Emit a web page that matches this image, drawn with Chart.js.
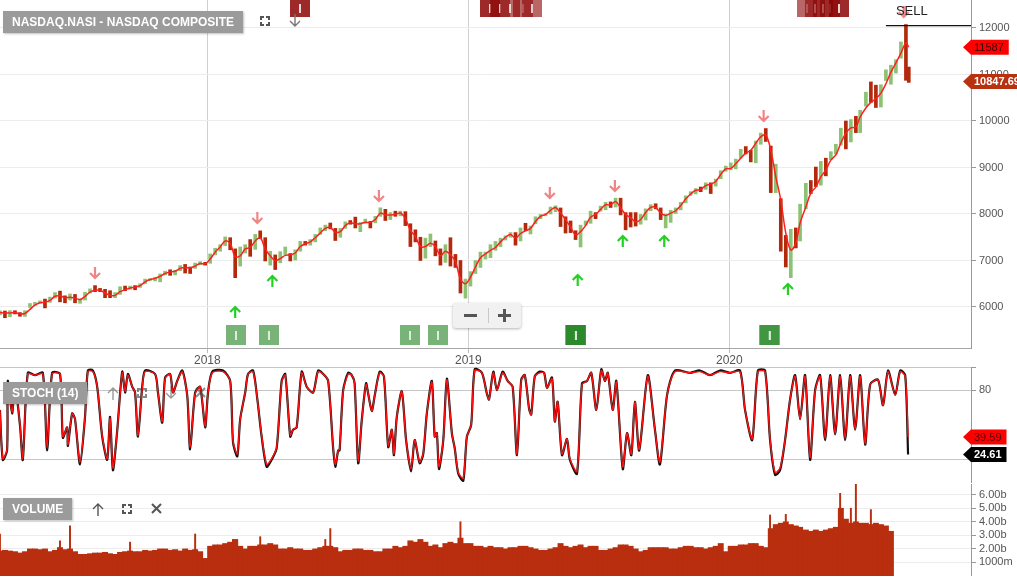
<!DOCTYPE html>
<html><head><meta charset="utf-8">
<script src="https://cdn.jsdelivr.net/npm/chart.js@4.4.1/dist/chart.umd.min.js"></script>
<style>
html,body{margin:0;padding:0;background:#fff}
body{width:1017px;height:580px;position:relative;overflow:hidden;font-family:"Liberation Sans",Arial,sans-serif}
canvas{position:absolute;left:0}
.lab{position:absolute;background:#9b9b9b;color:#fff;font-weight:bold;font-size:12px;height:22px;line-height:23px;padding:0 9px;box-shadow:1px 1px 2px rgba(0,0,0,.25);white-space:nowrap}
.ico{position:absolute;overflow:visible}
.zc{position:absolute;left:453px;top:303px;width:68px;height:25px;background:#f1f1f1;border-radius:3px;box-shadow:0 1px 3px rgba(0,0,0,.3)}
</style></head><body>
<canvas id="cp" width="1017" height="366" style="top:0;width:1017px;height:366px"></canvas>
<canvas id="cs" width="1017" height="116" style="top:367px;width:1017px;height:116px"></canvas>
<canvas id="cv" width="1017" height="92" style="top:484px;width:1017px;height:92px"></canvas>

<div class="lab" style="left:3px;top:11px">NASDAQ.NASI - NASDAQ COMPOSITE</div>
<svg class="ico" style="left:260px;top:16px" width="10" height="10"><path d="M1 4V1h3M6 1h3v3M9 6v3H6M4 9H1V6" fill="none" stroke="#555" stroke-width="2"/></svg>
<svg class="ico" style="left:289px;top:14px" width="12" height="14"><path d="M6 0v12M1 7l5 5 5-5" fill="none" stroke="#777" stroke-width="1.4"/></svg>

<div class="zc">
 <div style="position:absolute;left:11px;top:11px;width:13px;height:3px;background:#555"></div>
 <div style="position:absolute;left:35px;top:5px;width:1px;height:15px;background:#c8c8c8"></div>
 <div style="position:absolute;left:45px;top:11px;width:13px;height:3px;background:#555"></div>
 <div style="position:absolute;left:50px;top:6px;width:3px;height:13px;background:#555"></div>
</div>

<div class="lab" style="left:3px;top:382px">STOCH (14)</div>
<svg class="ico" style="left:107px;top:386px;opacity:.6" width="12" height="14"><path d="M6 14V2M1 7l5-5 5 5" fill="none" stroke="#555" stroke-width="1.4"/></svg>
<svg class="ico" style="left:137px;top:388px;opacity:.7" width="10" height="10"><path d="M1 4V1h3M6 1h3v3M9 6v3H6M4 9H1V6" fill="none" stroke="#555" stroke-width="2"/></svg>
<svg class="ico" style="left:165px;top:386px;opacity:.6" width="12" height="14"><path d="M6 0v12M1 7l5 5 5-5" fill="none" stroke="#555" stroke-width="1.4"/></svg>
<svg class="ico" style="left:195px;top:387px;opacity:.6" width="11" height="11"><path d="M1 1l9 9M10 1l-9 9" fill="none" stroke="#444" stroke-width="2"/></svg>

<div class="lab" style="left:3px;top:498px">VOLUME</div>
<svg class="ico" style="left:92px;top:502px" width="12" height="14"><path d="M6 14V2M1 7l5-5 5 5" fill="none" stroke="#555" stroke-width="1.4"/></svg>
<svg class="ico" style="left:122px;top:504px" width="10" height="10"><path d="M1 4V1h3M6 1h3v3M9 6v3H6M4 9H1V6" fill="none" stroke="#555" stroke-width="2"/></svg>
<svg class="ico" style="left:151px;top:503px" width="11" height="11"><path d="M1 1l9 9M10 1l-9 9" fill="none" stroke="#555" stroke-width="2"/></svg>

<script>
// ================= DATA =================
const weekDates = [
'2017-03-17','2017-03-24','2017-03-31','2017-04-07','2017-04-14','2017-04-21','2017-04-28','2017-05-05','2017-05-12','2017-05-19','2017-05-26','2017-06-02','2017-06-09','2017-06-16','2017-06-23','2017-06-30','2017-07-07','2017-07-14','2017-07-21','2017-07-28','2017-08-04','2017-08-11','2017-08-18','2017-08-25','2017-09-01','2017-09-08','2017-09-15','2017-09-22','2017-09-29','2017-10-06','2017-10-13','2017-10-20','2017-10-27','2017-11-03','2017-11-10','2017-11-17','2017-11-24','2017-12-01','2017-12-08','2017-12-15','2017-12-22','2017-12-29',
'2018-01-05','2018-01-12','2018-01-19','2018-01-26','2018-02-02','2018-02-09','2018-02-16','2018-02-23','2018-03-02','2018-03-09','2018-03-16','2018-03-23','2018-03-30','2018-04-06','2018-04-13','2018-04-20','2018-04-27','2018-05-04','2018-05-11','2018-05-18','2018-05-25','2018-06-01','2018-06-08','2018-06-15','2018-06-22','2018-06-29','2018-07-06','2018-07-13','2018-07-20','2018-07-27','2018-08-03','2018-08-10','2018-08-17','2018-08-24','2018-08-31','2018-09-07','2018-09-14','2018-09-21','2018-09-28','2018-10-05','2018-10-12','2018-10-19','2018-10-26','2018-11-02','2018-11-09','2018-11-16','2018-11-23','2018-11-30','2018-12-07','2018-12-14','2018-12-21','2018-12-28',
'2019-01-04','2019-01-11','2019-01-18','2019-01-25','2019-02-01','2019-02-08','2019-02-15','2019-02-22','2019-03-01','2019-03-08','2019-03-15','2019-03-22','2019-03-29','2019-04-05','2019-04-12','2019-04-19','2019-04-26','2019-05-03','2019-05-10','2019-05-17','2019-05-24','2019-05-31','2019-06-07','2019-06-14','2019-06-21','2019-06-28','2019-07-05','2019-07-12','2019-07-19','2019-07-26','2019-08-02','2019-08-09','2019-08-16','2019-08-23','2019-08-30','2019-09-06','2019-09-13','2019-09-20','2019-09-27','2019-10-04','2019-10-11','2019-10-18','2019-10-25','2019-11-01','2019-11-08','2019-11-15','2019-11-22','2019-11-29','2019-12-06','2019-12-13','2019-12-20','2019-12-27',
'2020-01-03','2020-01-10','2020-01-17','2020-01-24','2020-01-31','2020-02-07','2020-02-14','2020-02-21','2020-02-28','2020-03-06','2020-03-13','2020-03-20','2020-03-27','2020-04-03','2020-04-09','2020-04-17','2020-04-24','2020-05-01','2020-05-08','2020-05-15','2020-05-22','2020-05-29','2020-06-05','2020-06-12','2020-06-19','2020-06-26','2020-07-02','2020-07-10','2020-07-17','2020-07-24','2020-07-31','2020-08-07','2020-08-14','2020-08-21','2020-08-28','2020-09-04','2020-09-08'];

const weekHigh = [
5915,5914,5920,5920,5880,5920,6075,6100,6130,6170,6212,6310,6341,6240,6280,6270,6170,6315,6390,6460,6400,6380,6350,6310,6436,6450,6450,6460,6500,6600,6610,6640,6710,6770,6800,6790,6890,6915,6860,6945,6975,6960,
7140,7263,7340,7507,7490,7250,7290,7340,7450,7561,7637,7490,7200,7120,7190,7290,7150,7230,7410,7410,7450,7560,7700,7760,7806,7690,7690,7830,7860,7933,7815,7890,7840,7950,8133,8100,8030,8060,8060,8050,7790,7660,7500,7480,7570,7420,7250,7340,7490,7130,7000,6600,
6760,7000,7180,7180,7340,7410,7480,7530,7600,7600,7700,7800,7740,7940,7990,8010,8150,8175,8130,7940,7850,7640,7760,7850,8060,8030,8170,8250,8260,8340,8340,8030,8030,8030,7990,8110,8200,8220,8130,8000,8080,8130,8250,8390,8480,8545,8580,8670,8670,8750,8930,9030,
9100,9180,9390,9450,9370,9570,9740,9838,9460,9070,8330,7540,7670,7700,8210,8660,8720,9010,9130,9200,9340,9500,9845,10000,10030,10100,10230,10620,10840,10770,10780,11100,11200,11320,11700,12074,11160];

const weekLow = [
5830,5769,5790,5850,5800,5797,5990,6040,6080,5980,6100,6190,6110,6090,6150,6090,6080,6150,6300,6330,6330,6200,6200,6200,6270,6350,6380,6370,6420,6500,6570,6560,6540,6690,6680,6690,6780,6730,6720,6830,6910,6900,
6940,7120,7200,7320,7230,6630,6880,7160,7090,7240,7470,6990,6900,6805,6950,7130,6990,7010,7200,7330,7330,7400,7560,7640,7680,7430,7500,7690,7780,7700,7620,7800,7700,7810,7950,7860,7880,7950,7960,7750,7300,7400,7000,7050,7300,7100,6900,6960,6880,6850,6300,6190,
6450,6720,6850,7030,7060,7220,7300,7440,7500,7330,7420,7640,7570,7790,7900,7960,8000,8050,7730,7590,7600,7450,7290,7760,7800,7900,8060,8090,8140,8150,7980,7660,7720,7740,7780,7870,8070,8110,7880,7700,7820,8010,8090,8240,8400,8430,8480,8530,8440,8600,8760,8920,
8950,8970,9200,9290,9120,9100,9500,9560,8460,8460,7200,6860,6630,7270,7420,8110,8440,8590,8620,8820,9170,9290,9480,9400,9550,9750,9750,10320,10400,10290,10300,10870,10790,11030,11350,10875,10830];

const weekClose = [
5901,5828,5911,5877,5805,5910,6047,6100,6121,6083,6210,6306,6208,6151,6265,6140,6153,6312,6387,6374,6351,6256,6216,6265,6435,6360,6448,6426,6496,6590,6606,6629,6701,6764,6750,6783,6890,6848,6840,6937,6959,6903,
7136,7261,7336,7506,7240,6874,7239,7337,7257,7560,7482,6993,7063,6915,7107,7146,7120,7209,7403,7354,7434,7554,7646,7746,7692,7510,7688,7826,7820,7737,7812,7839,7816,7945,8109,7903,8010,7987,8046,7788,7497,7449,7167,7357,7406,7247,6939,7330,6969,6910,6333,6584,
6739,6971,7157,7164,7263,7298,7472,7527,7595,7408,7688,7643,7729,7939,7984,7998,8146,8164,7917,7816,7637,7453,7742,7797,8032,8006,8161,8244,8146,8330,8004,7959,7896,7751,7963,8103,8176,8118,7940,7982,8057,8090,8243,8386,8475,8541,8520,8665,8657,8735,8925,9007,
9020,9179,9389,9315,9151,9520,9731,9577,8567,8576,7875,6880,7502,7373,8153,8650,8634,8605,9121,9015,9325,9490,9815,9589,9946,9757,10208,10617,10503,10363,10745,11011,11019,11312,11696,11313,10847.69];

const weekMA = [
5880,5870,5870,5880,5850,5860,5950,6040,6090,6100,6140,6230,6240,6200,6210,6190,6160,6230,6320,6360,6360,6300,6250,6250,6330,6370,6410,6430,6460,6540,6590,6615,6660,6720,6750,6770,6830,6850,6840,6880,6935,6930,
7030,7180,7290,7420,7370,7080,7100,7250,7280,7420,7490,7250,7100,7000,7040,7110,7120,7160,7300,7360,7400,7490,7590,7690,7710,7610,7620,7750,7810,7790,7790,7820,7820,7880,8020,7980,7980,7990,8020,7900,7650,7520,7300,7300,7370,7300,7100,7200,7120,6980,6600,6500,
6640,6860,7060,7140,7220,7280,7400,7500,7560,7480,7580,7640,7690,7840,7950,7990,8080,8140,8020,7880,7720,7550,7620,7750,7930,7990,8100,8200,8190,8270,8130,7990,7920,7830,7880,8030,8140,8140,8020,7970,8020,8070,8180,8320,8430,8510,8525,8610,8640,8700,8850,8970,
8980,9080,9200,9310,9370,9520,9660,9700,9380,8800,8300,7590,7225,7376,7806,8150,8450,8580,8800,8946,9160,9270,9527,9740,9850,9870,10086,10280,10400,10480,10600,10800,11050,11250,11460,11680,11587];

// weekly volume, billions (null = no data yet)
const weekVolume = [
1.85,1.9,1.85,1.8,1.7,1.8,2.0,2.0,1.95,2.0,1.8,1.9,2.1,1.95,2.0,1.8,1.6,1.6,1.65,1.7,1.7,1.75,1.65,1.6,1.75,1.8,1.85,1.8,1.8,1.9,1.85,1.9,2.0,2.0,1.9,1.95,1.85,2.0,1.9,1.95,1.8,1.3,
2.2,2.3,2.3,2.4,2.5,2.7,2.2,2.0,2.2,2.2,2.3,2.3,2.4,2.3,2.0,2.0,2.1,2.0,2.0,1.9,1.9,2.0,2.1,2.2,2.2,2.1,1.8,1.9,1.9,2.0,2.0,1.9,1.9,1.8,1.8,2.0,2.0,2.2,2.1,2.2,2.6,2.5,2.7,2.5,2.2,2.3,2.1,2.4,2.5,2.4,2.8,2.4,
2.4,2.2,2.2,2.1,2.2,2.1,2.1,2.0,2.1,2.1,2.2,2.2,2.1,2.0,1.9,1.9,2.0,2.1,2.4,2.2,2.1,2.2,2.3,2.1,2.2,2.2,1.9,1.9,2.0,2.1,2.3,2.3,2.2,2.0,1.8,1.9,2.1,2.1,2.1,2.1,2.0,2.0,2.1,2.2,2.2,2.1,2.1,2.0,2.1,2.2,2.4,1.8,
2.2,2.2,2.3,2.3,2.4,2.4,2.2,2.1,3.5,3.8,3.9,4.0,3.8,3.7,3.6,3.4,3.3,3.4,3.3,3.4,3.5,3.6,5.0,4.2,3.9,4.0,3.9,3.9,3.8,3.9,3.8,3.7,3.3,null,null,null,null];

// single-day volume spikes, billions
const spikeDates = ['2017-03-17','2017-06-09','2017-06-23','2017-09-15','2017-12-15','2018-02-06','2018-03-16','2018-06-15','2018-06-22','2018-12-21','2020-02-27','2020-03-20','2020-06-04','2020-06-19','2020-06-26','2020-07-17'];
const spikeVolume = [3.1,2.6,3.7,2.5,3.1,2.7,2.9,2.7,3.5,4.0,4.5,4.55,6.1,5.0,6.8,4.9];

// stochastic (14): day number counted from 2017-01-01
const stochDay = [75,79,85,86,92,96,103,107,114,124,135,141,148,159,163,169,170,176,180,187,194,198,205,211,218,225,229,233,239,246,250,254,260,264,268,274,278,292,296,302,306,313,317,323,330,337,341,348,355,362,366,372,387,397,401,407,411,418,422,429,435,441,448,455,462,469,474,481,485,490,497,504,513,520,527,534,541,544,548,
550,555,562,567,571,576,581,587,590,595,599,606,612,618,623,626,630,637,643,650,655,662,667,672,679,683,686,689,695,700,707,711,716,723,728,734,739,749,756,759,765,770,778,785,792,798,804,809,815,818,823,830,836,840,847,851,855,861,868,872,882,889,896,902,909,916,921,925,932,937,946,952,958,963,969,
981,991,998,1008,1019,1040,1054,1068,1082,1096,1110,1117,1127,1135,1145,1152,1159,1166,1173,1180,1187,1194,1201,1208,1215,1222,1229,1236,1243,1250,1257,1264,1271,1278,1285,1292,1303,1310,1317,1327,1334,1341,1345];
const stochK = [63,20,28,88,60,85,50,20,95,93,95,28,95,94,39,48,32,60,55,16,57,97,97,83,40,20,57,11,45,96,78,94,83,78,40,83,97,94,78,52,91,94,78,88,97,75,29,78,83,48,78,96,97,88,35,23,55,78,94,97,72,40,14,20,30,88,94,40,46,48,96,83,78,97,94,88,30,14,28,
28,80,95,93,86,17,54,86,77,62,75,96,92,31,46,24,57,79,37,10,37,17,25,60,88,40,43,12,37,90,43,30,8,2,40,50,98,95,77,72,96,80,96,88,83,24,89,93,64,59,92,96,95,82,91,53,70,24,38,20,8,86,88,95,63,98,88,95,63,88,12,43,24,70,28,
93,46,16,76,97,95,97,93,97,95,97,63,37,97,97,37,7,11,37,72,93,55,93,20,80,93,37,93,42,93,37,93,46,93,33,85,89,67,97,76,97,93,24.61];
const stochD = [63,21,29,86,61,84,51,21,94,93,94,30,94,94,40,48,33,60,55,18,57,96,96,83,41,21,56,13,45,95,79,93,83,78,41,82,96,94,78,53,90,94,78,88,96,75,31,77,83,49,78,95,96,88,36,25,55,78,94,96,72,41,16,21,31,87,93,41,46,48,95,83,78,96,94,88,31,16,28,
29,79,94,93,86,19,54,85,77,62,75,95,92,32,46,25,57,79,37,12,37,18,26,60,87,40,43,14,37,89,43,30,9,4,40,50,97,95,77,72,95,80,95,88,83,25,88,93,64,59,92,95,95,82,90,53,70,25,38,21,10,85,88,95,63,97,88,95,63,87,14,43,25,70,29,
92,46,18,76,96,95,96,93,96,95,96,63,38,96,96,38,9,13,37,72,92,55,92,22,79,92,38,92,42,92,38,92,46,92,34,85,89,67,96,76,96,92,39.59];

// signal markers
const sellSignalDates = ['2017-07-28','2018-03-12','2018-08-29','2019-04-25','2019-07-25','2020-02-18','2020-09-01'];
const sellSignalPrice = [6731,7914,8387,8452,8602,10108,12344];
const buySignalDates = ['2018-02-09','2018-04-02','2018-12-24','2019-06-03','2019-08-05','2019-10-02','2020-03-23'];
const buySignalPrice = [5892,6559,5935,6581,7419,7419,6387];
const alertDates = ['2018-02-10','2018-03-28','2018-10-11','2018-11-19','2019-05-30','2019-05-31','2019-06-01','2020-02-25','2020-02-27'];
const insiderDates = ['2018-05-11','2018-05-11','2019-01-31','2019-01-31','2019-02-14','2019-02-28','2019-03-18','2019-03-31','2020-04-18','2020-04-30','2020-05-11','2020-05-21','2020-06-03','2020-06-03'];
const sellLevel = 12050, sellLineStart = '2020-08-07', sellText = 'SELL';
const yearTicks = [2018, 2019, 2020];
const priceTicks = [6000,7000,8000,9000,10000,11000,12000];
const stochTicks = [0,20,80,100];
const volumeTicks = [1,2,3,4,5,6];

// ================= HELPERS =================
const DAY0 = Date.UTC(2017,0,1);
function toDay(s){const p=s.split('-').map(Number);return (Date.UTC(p[0],p[1]-1,p[2])-DAY0)/86400000;}
const X_MIN = 75.1, X_MAX = 1433;
const FONT = '"Liberation Sans", Arial, sans-serif';
const UP = '#8dc274', DOWN = '#b3290b', VOLC = '#b82e0e';
const weekX = weekDates.map(toDay);

function tag(ctx, y, text, bg, fg, bold){
  ctx.save();
  ctx.font = (bold?'bold ':'') + '11px ' + FONT;
  const w = ctx.measureText(text).width;
  const x0=963, x1=971, x2=x1+w+8, h=7.5;
  ctx.beginPath();ctx.moveTo(x0,y);ctx.lineTo(x1,y-h);ctx.lineTo(x2,y-h);ctx.lineTo(x2,y+h);ctx.lineTo(x1,y+h);ctx.closePath();
  ctx.fillStyle=bg;ctx.fill();
  ctx.fillStyle=fg;ctx.textBaseline='middle';ctx.textAlign='left';
  ctx.fillText(text,x1+3,y+0.5);
  ctx.restore();
}
function arrow(ctx,cx,cy,dir,color){
  ctx.save();ctx.strokeStyle=color;ctx.lineWidth=2.2;ctx.lineCap='butt';
  ctx.beginPath();
  if(dir==='down'){ctx.moveTo(cx,cy-6);ctx.lineTo(cx,cy+5);ctx.moveTo(cx-5,cy);ctx.lineTo(cx,cy+5);ctx.lineTo(cx+5,cy);}
  else{ctx.moveTo(cx,cy+6);ctx.lineTo(cx,cy-5);ctx.moveTo(cx-5,cy);ctx.lineTo(cx,cy-5);ctx.lineTo(cx+5,cy);}
  ctx.stroke();ctx.restore();
}
function box(ctx,cx,top,color){
  ctx.save();ctx.fillStyle=color;ctx.fillRect(Math.round(cx-10),top,20,top===0?17:20);
  ctx.fillStyle='rgba(255,255,255,0.75)';ctx.fillRect(Math.round(cx-1),top+(top===0?4:6),2,9);
  ctx.restore();
}

const common = {responsive:false, animation:false, devicePixelRatio:1, layout:{padding:0}, events:[],
  plugins:{legend:{display:false}, tooltip:{enabled:false}}};
const rightAxisFit = s => {s.width=46; s.paddingTop=0; s.paddingBottom=0;};

// ================= PRICE =================
const openArr = weekClose.map((c,i)=> i ? weekClose[i-1] : c);
const barColors = weekClose.map((c,i)=> c >= openArr[i] ? UP : DOWN);

const pricePlugin = {
  id:'pricemarks',
  afterDatasetsDraw(chart){
    const {ctx, scales:{x,y}, chartArea:ca} = chart;
    sellSignalDates.forEach((d,i)=>arrow(ctx, x.getPixelForValue(toDay(d)), y.getPixelForValue(sellSignalPrice[i]), 'down', '#f08585'));
    buySignalDates.forEach((d,i)=>arrow(ctx, x.getPixelForValue(toDay(d)), y.getPixelForValue(buySignalPrice[i]), 'up', '#25d025'));
    alertDates.forEach(d=>box(ctx, x.getPixelForValue(toDay(d)), ca.bottom-23, 'rgba(30,130,30,0.6)'));
    insiderDates.forEach(d=>box(ctx, x.getPixelForValue(toDay(d)), 0, 'rgba(139,0,0,0.6)'));
    ctx.save();ctx.font='13px '+FONT;ctx.fillStyle='#222';ctx.textAlign='center';ctx.textBaseline='middle';
    ctx.fillText(sellText, x.getPixelForValue(toDay('2020-09-01'))+8, 11);ctx.restore();
  },
  afterDraw(chart){
    const y = chart.scales.y, ctx = chart.ctx, n = weekClose.length-1;
    tag(ctx, y.getPixelForValue(weekMA[n]), String(Math.round(weekMA[n])), '#ff0000', '#3a0000', false);
    tag(ctx, y.getPixelForValue(weekClose[n]), weekClose[n].toFixed(2), '#b83210', '#ffffff', true);
  }
};

new Chart(document.getElementById('cp'), {
  type:'bar',
  data:{datasets:[
    {type:'bar', data: weekX.map((x,i)=>({x, y:[weekLow[i], weekHigh[i]]})), backgroundColor: barColors, barThickness:3, grouped:false, order:3},
    {type:'line', data: weekX.map((x,i)=>({x, y:weekMA[i]})), borderColor:'#ff1f1f', borderWidth:1.5, pointRadius:0, tension:0.35, order:1},
    {type:'line', data:[{x:toDay(sellLineStart), y:sellLevel},{x:X_MAX, y:sellLevel}], borderColor:'#111', borderWidth:1.2, pointRadius:0, order:0}
  ]},
  options:{...common,
    scales:{
      x:{type:'linear', min:X_MIN, max:X_MAX, offset:false,
        afterBuildTicks:s=>{s.ticks = yearTicks.map(v=>({value:toDay(v+'-01-01')}));},
        afterFit:s=>{s.height=18; s.paddingLeft=0; s.paddingRight=0;},
        ticks:{callback:(v,i)=>String(yearTicks[i]), color:'#555', font:{size:12,family:FONT}, padding:0, maxRotation:0, autoSkip:false},
        grid:{color:'#d0d0d0', tickColor:'#bbb', tickLength:5, offset:false},
        border:{color:'#a8a8a8'}},
      y:{position:'right', min:5118, max:12602,
        afterBuildTicks:s=>{s.ticks = priceTicks.map(v=>({value:v}));},
        afterFit:rightAxisFit,
        ticks:{color:'#555', font:{size:11,family:FONT}, padding:3, autoSkip:false, callback:v=>String(v)},
        grid:{color:'#ececec', tickColor:'#999', tickLength:5},
        border:{color:'#999'}}
    }},
  plugins:[pricePlugin]
});

// ================= STOCH =================
const stochPlugin = {id:'stochtags', afterDraw(chart){
  const y = chart.scales.y, ctx = chart.ctx, n = stochK.length-1;
  tag(ctx, y.getPixelForValue(stochD[n]), stochD[n].toFixed(2), '#ff0000', '#5a0000', false);
  tag(ctx, y.getPixelForValue(stochK[n]), stochK[n].toFixed(2), '#000000', '#ffffff', true);
}};
new Chart(document.getElementById('cs'), {
  type:'line',
  data:{datasets:[
    {data: stochDay.map((d,i)=>({x:d, y:stochK[i]})), borderColor:'#111', borderWidth:2.2, pointRadius:0, tension:0.25, order:2},
    {data: stochDay.map((d,i)=>({x:d, y:stochD[i]})), borderColor:'#ff1010', borderWidth:1.4, pointRadius:0, tension:0.25, order:1}
  ]},
  options:{...common,
    scales:{
      x:{type:'linear', min:X_MIN, max:X_MAX, display:false},
      y:{position:'right', min:0, max:100,
        afterBuildTicks:s=>{s.ticks = stochTicks.map(v=>({value:v}));},
        afterFit:rightAxisFit,
        ticks:{color:'#555', font:{size:11,family:FONT}, padding:3, autoSkip:false, callback:v=>(v===80)?String(v):''},
        grid:{color:'#c6c6c6', tickColor:'#999', tickLength:5},
        border:{color:'#999'}}
    }},
  plugins:[stochPlugin]
});

// ================= VOLUME =================
new Chart(document.getElementById('cv'), {
  type:'bar',
  data:{datasets:[
    {data: weekX.map((x,i)=>({x, y:weekVolume[i]})), backgroundColor:VOLC, barThickness:5.3, grouped:false},
    {data: spikeDates.map((d,i)=>({x:toDay(d), y:spikeVolume[i]})), backgroundColor:VOLC, barThickness:1.3, grouped:false}
  ]},
  options:{...common,
    scales:{
      x:{type:'linear', min:X_MIN, max:X_MAX, display:false, offset:false},
      y:{position:'right', min:0, max:6.79,
        afterBuildTicks:s=>{s.ticks = volumeTicks.map(v=>({value:v}));},
        afterFit:rightAxisFit,
        ticks:{color:'#555', font:{size:11,family:FONT}, padding:3, autoSkip:false, callback:v=> v>=2 ? v.toFixed(2)+'b' : Math.round(v*1000)+'m'},
        grid:{color:'#ececec', tickColor:'#999', tickLength:5},
        border:{color:'#999'}}
    }}
});
</script>
</body></html>
